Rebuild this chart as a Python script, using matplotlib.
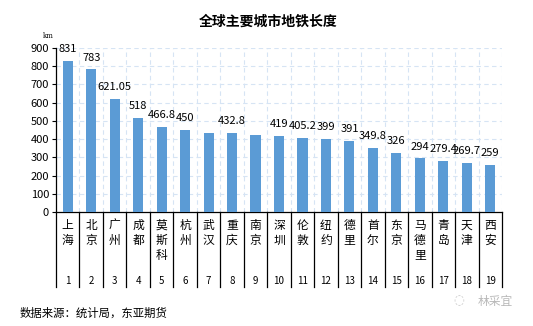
import matplotlib
matplotlib.use("Agg")
import matplotlib.pyplot as plt
from matplotlib.lines import Line2D
import numpy as np

plt.rcParams['font.family'] = ['Noto Sans CJK SC', 'DejaVu Sans']

cities = ["上海", "北京", "广州", "成都", "莫斯科", "杭州", "武汉", "重庆", "南京", "深圳",
          "伦敦", "纽约", "德里", "首尔", "东京", "马德里", "青岛", "天津", "西安"]
ranks = [str(i) for i in range(1, 20)]
lengths = [831, 783, 621.05, 518, 466.8, 450, 0, 432.8, 0, 419,
           405.2, 399, 391, 349.8, 326, 294, 279.4, 269.7, 259]
# bars without visible labels (estimated heights)
bar_heights = [831, 783, 621.05, 518, 466.8, 450, 436, 432.8, 424, 419,
               405.2, 399, 391, 349.8, 326, 294, 279.4, 269.7, 259]
label_texts = ["831", "783", "621.05", "518", "466.8", "450", "", "432.8", "", "419",
               "405.2", "399", "391", "349.8", "326", "294", "279.4", "269.7", "259"]
yticks = [0, 100, 200, 300, 400, 500, 600, 700, 800, 900]

W, H = 533, 326
fig = plt.figure(figsize=(W / 100, H / 100), dpi=100)
ax = fig.add_axes([56 / W, 1 - 212 / H, (502 - 56) / W, (212 - 48) / H])

n = len(cities)
x = np.arange(n)
ax.bar(x, bar_heights, width=0.43, color="#5B9BD5", zorder=3)
ax.set_xlim(-0.5, n - 0.5)
ax.set_ylim(0, 900)
ax.set_yticks(yticks)
ax.set_yticklabels([str(v) for v in yticks], fontsize=8)
ax.tick_params(axis='y', length=3, width=0.8, pad=2)
ax.set_xticks([])

grid_c = "#D6E4F4"
for v in yticks[1:]:
    ax.axhline(v, color=grid_c, lw=0.8, ls=(0, (4, 3)), zorder=1)
for b in np.arange(-0.5, n, 1.0)[1:]:
    ax.axvline(b, color=grid_c, lw=0.8, ls=(0, (4, 3)), zorder=1)

for s in ["top", "right"]:
    ax.spines[s].set_visible(False)
ax.spines["left"].set_linewidth(0.9)
ax.spines["bottom"].set_linewidth(0.9)

for xi, h, t in zip(x, bar_heights, label_texts):
    if t:
        ax.annotate(t, (xi, h), xytext=(0, 8.5), textcoords="offset points",
                    ha="center", va="center", fontsize=8, zorder=4)

# multi-level category axis
trans = ax.get_xaxis_transform()
axh = 212 - 48
def yfrac(py):
    return (212 - py) / axh

for b in np.arange(-0.5, n + 0.5, 1.0):
    ax.add_line(Line2D([b, b], [0, yfrac(287)], transform=trans, color="black",
                       lw=0.9, clip_on=False))
for xi, c, r in zip(x, cities, ranks):
    ax.text(xi, yfrac(219), "\n".join(c), transform=trans, ha="center", va="top",
            fontsize=8.5, linespacing=1.2, clip_on=False)
    ax.text(xi, yfrac(281), r, transform=trans, ha="center", va="center",
            fontsize=7, clip_on=False)

fig.text(268.5 / W, 1 - 22 / H, "全球主要城市地铁长度", ha="center", va="center",
         fontsize=10, fontweight="bold")
fig.text(48 / W, 1 - 36 / H, "km", ha="center", va="center", fontsize=5,
         family=["DejaVu Serif"])
fig.text(20 / W, 1 - 313 / H, "数据来源：统计局，东亚期货", ha="left", va="center",
         fontsize=8.2)
fig.text(478 / W, 1 - 301 / H, "林采宜", ha="left", va="center", fontsize=8.5,
         color="#B8B8B8")
fig.text(459 / W, 1 - 301 / H, "◌", ha="center", va="center", fontsize=9,
         color="#C8C8C8", family=["DejaVu Sans"])

fig.savefig("out.png", dpi=100)
